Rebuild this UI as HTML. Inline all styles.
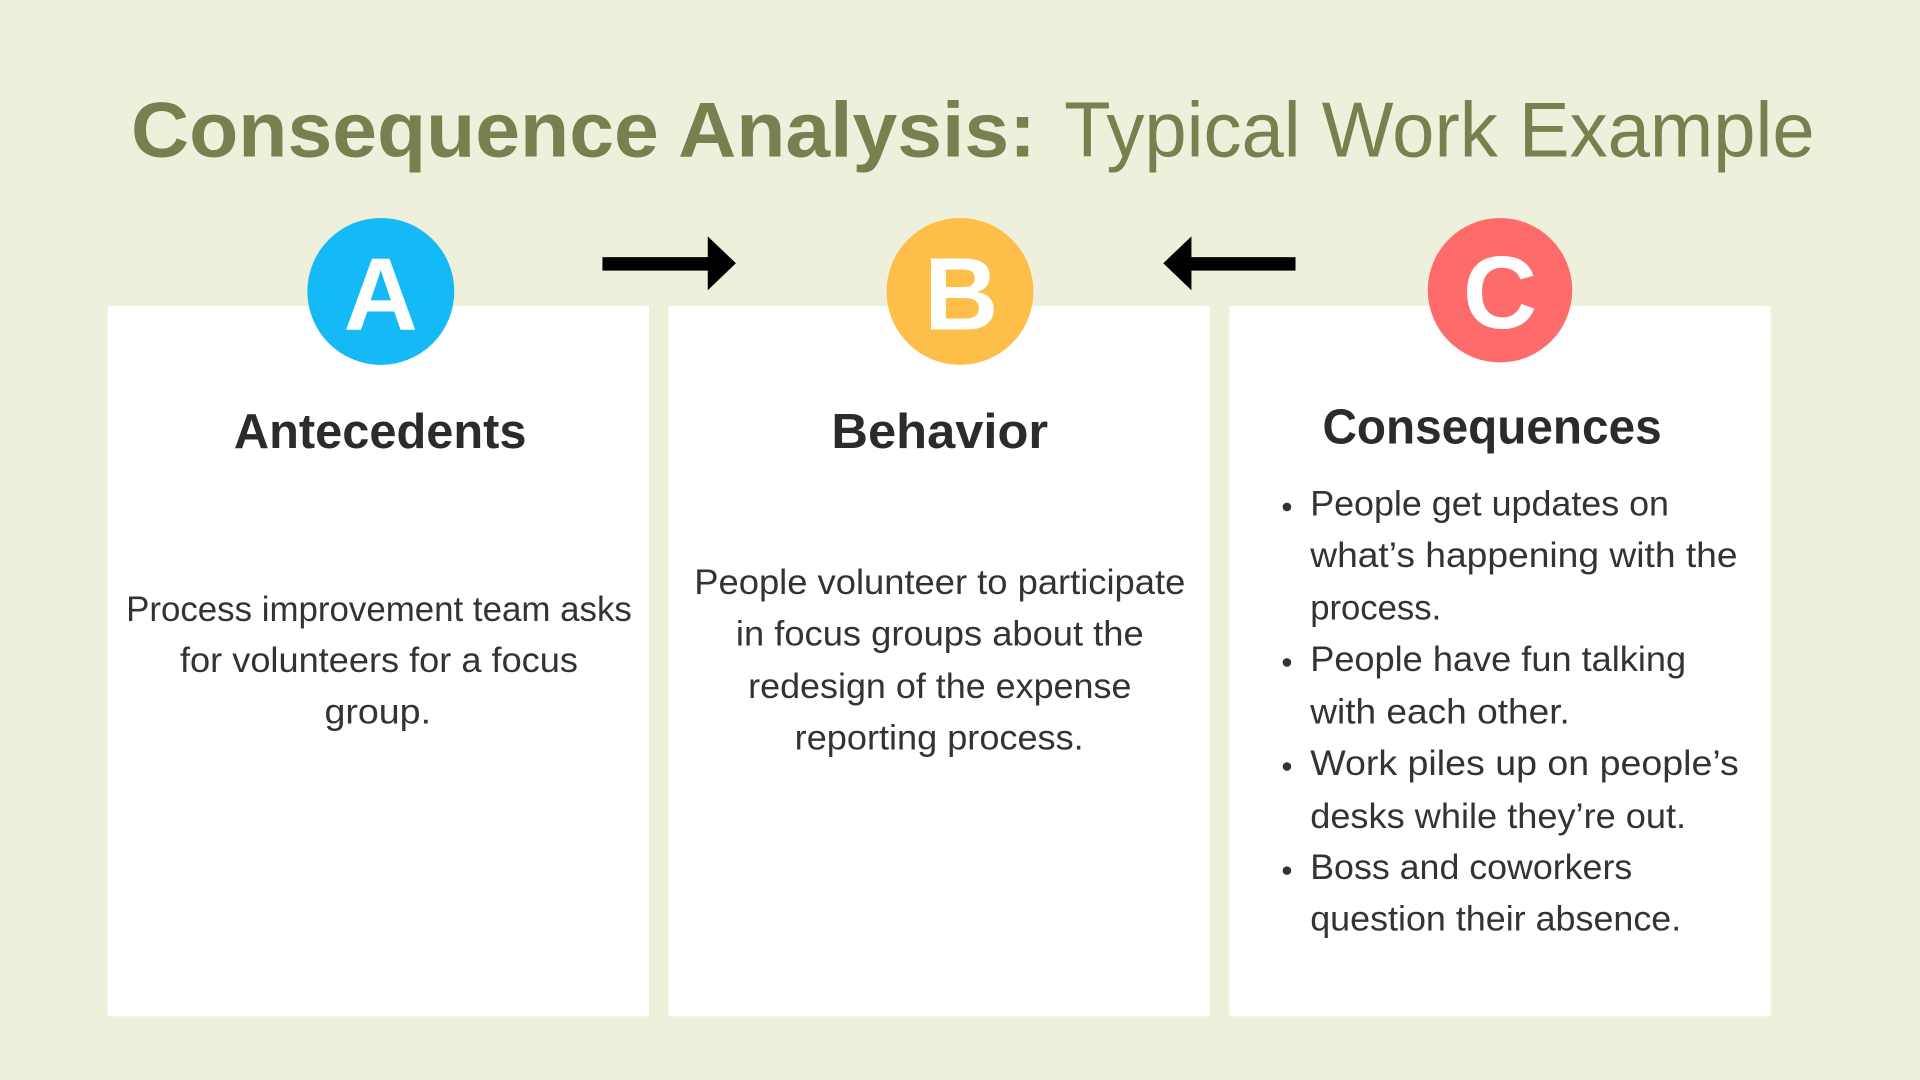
<!DOCTYPE html>
<html><head><meta charset="utf-8"><style>
html,body{margin:0;padding:0;background:#eff0db;}
svg{display:block}
text{font-family:"Liberation Sans",sans-serif;}
</style></head><body>
<svg width="1920" height="1080" viewBox="0 0 1568 882" xmlns="http://www.w3.org/2000/svg">
<rect width="1568" height="882" fill="#eff0db"/>
<text x="107" y="128" font-size="64" font-weight="bold" fill="#77804f" textLength="739" lengthAdjust="spacingAndGlyphs">Consequence Analysis:</text>
<text x="869" y="128" font-size="64" fill="#77804f" textLength="613" lengthAdjust="spacingAndGlyphs">Typical Work Example</text>
<rect x="88" y="250" width="442" height="580" fill="#fff"/>
<rect x="546" y="250" width="442" height="580" fill="#fff"/>
<rect x="1004" y="250" width="442" height="580" fill="#fff"/>
<circle cx="311" cy="238" r="60" fill="#14b9f5"/>
<circle cx="784" cy="238" r="60" fill="#fdbf49"/>
<circle cx="1225" cy="237" r="59" fill="#fe6b6b"/>
<g font-weight="bold" fill="#fff" font-size="84" text-anchor="middle">
<text x="311" y="269">A</text><text x="785" y="269">B</text><text x="1225" y="268">C</text>
</g>
<rect x="492" y="210" width="90" height="11" fill="#000"/>
<polygon points="578,193 601,215 578,237" fill="#000"/>
<rect x="970" y="210" width="88" height="11" fill="#000"/>
<polygon points="973,193 950,215 973,237" fill="#000"/>
<g font-weight="bold" font-size="40" fill="#2b2b2b">
<text x="191" y="366" textLength="239" lengthAdjust="spacingAndGlyphs">Antecedents</text>
<text x="679" y="366" textLength="177" lengthAdjust="spacingAndGlyphs">Behavior</text>
<text x="1080" y="362" textLength="277" lengthAdjust="spacingAndGlyphs">Consequences</text>
</g>
<g font-size="29" fill="#333" lengthAdjust="spacingAndGlyphs">
<text x="103" y="507" textLength="413" lengthAdjust="spacingAndGlyphs">Process improvement team asks</text>
<text x="147" y="549" textLength="325" lengthAdjust="spacingAndGlyphs">for volunteers for a focus</text>
<text x="265" y="591" textLength="87" lengthAdjust="spacingAndGlyphs">group.</text>
<text x="567" y="485" textLength="401" lengthAdjust="spacingAndGlyphs">People volunteer to participate</text>
<text x="601" y="527" textLength="333" lengthAdjust="spacingAndGlyphs">in focus groups about the</text>
<text x="611" y="570" textLength="313" lengthAdjust="spacingAndGlyphs">redesign of the expense</text>
<text x="649" y="612" textLength="236" lengthAdjust="spacingAndGlyphs">reporting process.</text>
<text x="1070" y="421" textLength="293" lengthAdjust="spacingAndGlyphs">People get updates on</text>
<text x="1070" y="463" textLength="349" lengthAdjust="spacingAndGlyphs">what’s happening with the</text>
<text x="1070" y="506" textLength="107" lengthAdjust="spacingAndGlyphs">process.</text>
<text x="1070" y="548" textLength="307" lengthAdjust="spacingAndGlyphs">People have fun talking</text>
<text x="1070" y="591" textLength="212" lengthAdjust="spacingAndGlyphs">with each other.</text>
<text x="1070" y="633" textLength="350" lengthAdjust="spacingAndGlyphs">Work piles up on people’s</text>
<text x="1070" y="676" textLength="307" lengthAdjust="spacingAndGlyphs">desks while they’re out.</text>
<text x="1070" y="718" textLength="263" lengthAdjust="spacingAndGlyphs">Boss and coworkers</text>
<text x="1070" y="760" textLength="303" lengthAdjust="spacingAndGlyphs">question their absence.</text>
</g>
<g fill="#333">
<circle cx="1051" cy="414" r="3.5"/><circle cx="1051" cy="541" r="3.5"/>
<circle cx="1051" cy="626" r="3.5"/><circle cx="1051" cy="711" r="3.5"/>
</g>
</svg>
</body></html>
